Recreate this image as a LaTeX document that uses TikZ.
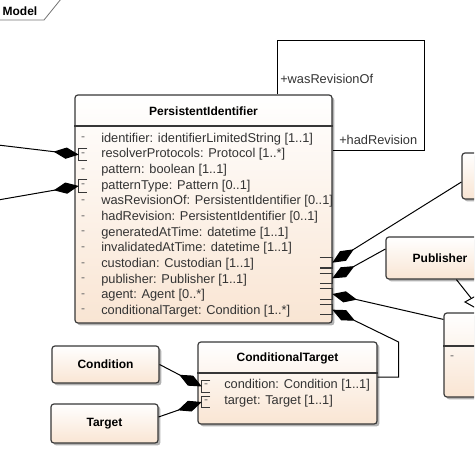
\documentclass[tikz,border=0pt]{standalone}
\usepackage{fontspec}
\setmainfont{Liberation Sans}
\usetikzlibrary{arrows.meta,shadows}
\definecolor{peach}{RGB}{249,229,211}
\definecolor{edge}{RGB}{55,55,55}
\tikzset{
  cls/.style={draw=edge, line width=0.9pt, rounded corners=2.2pt, top color=white, bottom color=peach,
    drop shadow={shadow xshift=1.8pt, shadow yshift=-1.8pt, opacity=0.3, fill=black}},
  ttl/.style={font=\fontsize{9}{11}\selectfont\bfseries},
  attr/.style={anchor=west, inner sep=0pt, text=black!80, font=\fontsize{9.6}{11}\selectfont},
  vis/.style={inner sep=0pt, text=black!60, font=\fontsize{9}{11}\selectfont},
  lport/.style={inner sep=0pt, minimum width=6pt, minimum height=9pt},
  rport/.style={inner sep=0pt, minimum width=9pt, minimum height=7.5pt},
  brk/.style={draw=edge, line width=0.8pt},
  comp/.style={line width=0.75pt, -{Diamond[length=19pt,width=8.5pt]}},
}
\begin{document}
\begin{tikzpicture}[x=0.75pt, y=-0.75pt]
        \useasboundingbox (0,0) rectangle (474,474);
        \clip (0,0) rectangle (474,474);
        % frame tab
        \draw[line width=0.6pt, edge!70] (-5,20) -- (44,20) -- (61,-1);
        \node (t9) [ttl, anchor=east] at (42,11) {Model};
        % classes
        \node (v0) [cls, minimum width=257*0.75pt, minimum height=228*0.75pt] at (203.5,209) {};
        \node (v1) [cls, ttl, minimum width=107*0.75pt, minimum height=37*0.75pt] at (105.5,364.5) {Condition};
        \node (v2) [cls, ttl, minimum width=107*0.75pt, minimum height=39*0.75pt] at (104.5,423.5) {Target};
        \node (v3) [cls, minimum width=179*0.75pt, minimum height=82*0.75pt] at (287.5,383) {};
        \node (v4) [cls, minimum width=98*0.75pt, minimum height=46*0.75pt] at (511,176) {};
        \node (v5) [cls, ttl, minimum width=108*0.75pt, minimum height=42*0.75pt] at (440,258) {Publisher};
        \node (v6) [cls, minimum width=116*0.75pt, minimum height=84*0.75pt] at (502,355) {};
        \node (t0) [ttl] at (203.5,111) {PersistentIdentifier};
        \node (t3) [ttl] at (287.5,358) {ConditionalTarget};
        \draw[brk] (v0.west |- 0,126) -- (v0.east |- 0,126);
        \draw[brk] (v3.west |- 0,373) -- (v3.east |- 0,373);
        \draw[brk] (v6.west |- 0,346) -- (v6.east |- 0,346);
        % attributes
        \foreach \t [count=\i] in {identifier: identifierLimitedString [1..1],
            resolverProtocols: Protocol [1..*], pattern: boolean [1..1],
            patternType: Pattern [0..1], wasRevisionOf: PersistentIdentifier [0..1],
            hadRevision: PersistentIdentifier [0..1], generatedAtTime: datetime [1..1],
            invalidatedAtTime: datetime [1..1], custodian: Custodian [1..1],
            publisher: Publisher [1..1], agent: Agent [0..*],
            conditionalTarget: Condition [1..*]} {
                \node (r\i) [attr] at (101,139+15.65*\i-15.65) {\t};
                \node (d\i) [vis] at (83,139+15.65*\i-15.65) {-};
        }
        \node (r13) [attr] at (224,385) {condition: Condition [1..1]};
        \node (r14) [attr] at (224,401) {target: Target [1..1]};
        \node (d13) [vis] at (206,386) {-};
        \node (d14) [vis] at (206,402) {-};
        \node (d15) [vis] at (452,358) {-};
        % ports
        \foreach \i in {2,4} {
                \node (p\i) [lport] at (83,139+15.65*\i-15.65) {};
                \draw[brk] (p\i.north east) -- (p\i.north west) -- (p\i.south west) -- (p\i.south east);
        }
        \foreach \i in {9,...,12} {
                \node (p\i) [rport] at (326,137.5+15.65*\i-15.65) {};
                \draw[brk] (p\i.north west) -- (p\i.north east) -- (p\i.south east) -- (p\i.south west);
        }
        \node (c1) [lport] at (206,386.5) {};
        \node (c2) [lport, minimum height=7.5pt] at (206,402) {};
        \foreach \i in {1,2}
                \draw[brk] (c\i.north east) -- (c\i.north west) -- (c\i.south west) -- (c\i.south east);
        % self association
        \coordinate (s0) at (424,41);
        \coordinate (s1) at (277,150);
        \draw[line width=0.75pt] (v0.north -| s1) |- (s0) |- (v0.east |- s1);
        \node (l0) [attr] at (280,79) {+wasRevisionOf};
        \node (l1) [attr] at (339,140) {+hadRevision};
        % compositions
        \coordinate (a0) at (-2,145);
        \coordinate (a1) at (-2,200);
        \draw[comp] (a0) -- (p2.west);
        \draw[comp] (a1) -- (p4.west);
        \draw[comp] ([yshift=-4.5pt]v4.west) -- (p9.east);
        \draw[comp] ([yshift=6.75pt]v5.west) -- (p10.east);
        \draw[comp] ([yshift=-5.25pt]v6.north west) -- (p11.east);
        \draw[comp] ([yshift=4.5pt]v3.east) -- ++(21,0) -- ++(0,-35) -- (p12.east);
        \draw[comp] (v1.east) -- (c1.west);
        \draw[comp] ([yshift=4.9pt]v2.east) -- (c2.west);
        % aggregation to the right
        \coordinate (h0) at (471,298);
        \draw[line width=0.75pt] ([xshift=53.25pt]v5.south west) -- (h0);
        \draw[line width=0.75pt, fill=white] (465,302) -- (474,297) -- (483,302) -- (474,307) -- cycle;
\end{tikzpicture}
\end{document}
